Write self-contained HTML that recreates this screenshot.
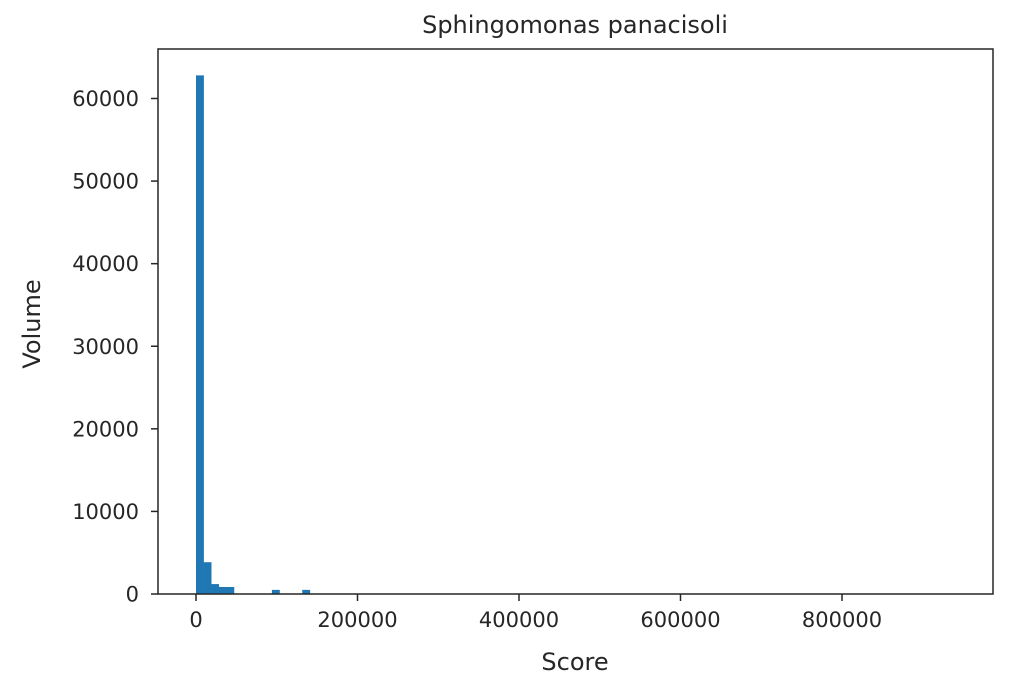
<!DOCTYPE html>
<html><head><meta charset="utf-8"><style>
body{margin:0;background:#fff;}
svg text{font-family:"DejaVu Sans","Liberation Sans",sans-serif;fill:#262626;}
</style></head><body>
<svg id="chart" width="1032" height="693" xmlns="http://www.w3.org/2000/svg">
<text x="575" y="33" font-size="24" text-anchor="middle">Sphingomonas panacisoli</text>
<text x="575" y="670" font-size="24" text-anchor="middle">Score</text>
<text x="40" y="324" font-size="24" text-anchor="middle" transform="rotate(-90 40 324)">Volume</text>
<g id="bars"></g>
<g id="xt"></g>
<g id="yt"></g>
<rect x="158" y="49" width="835" height="545" fill="none" stroke="#262626" stroke-width="1.5"/>
</svg>
<script>
const binWidth = 9400;
const binStarts = [0, 9400, 18800, 28200, 37600, 94000, 131600];
const binCounts = [62800, 3850, 1200, 850, 850, 500, 500];
const xTicks = [0, 200000, 400000, 600000, 800000];
const yTicks = [0, 10000, 20000, 30000, 40000, 50000, 60000];

const NS = "http://www.w3.org/2000/svg";
const xs = v => 196 + v * (646 / 800000);
const ys = v => 594 - v * (495.5 / 60000);
function mk(tag, attrs, parent){const e=document.createElementNS(NS,tag);for(const k in attrs)e.setAttribute(k,attrs[k]);parent.appendChild(e);return e;}
const bars=document.getElementById('bars');
binStarts.forEach((s,i)=>{
  const x0=xs(s), x1=xs(s+binWidth);
  const r=mk('rect',{x:x0,y:ys(binCounts[i]),width:x1-x0+0.3,height:594-ys(binCounts[i]),fill:'#1f77b4'},bars);
  
  
});
const xt=document.getElementById('xt');
xTicks.forEach(v=>{
  const x=xs(v);
  mk('line',{x1:x,x2:x,y1:594,y2:601,stroke:'#262626','stroke-width':1.5},xt);
  const t=mk('text',{x:x,y:627,'font-size':21,'text-anchor':'middle'},xt);
  t.textContent=v;
  
  
});
const yt=document.getElementById('yt');
yTicks.forEach(v=>{
  const y=ys(v);
  mk('line',{x1:151,x2:158,y1:y,y2:y,stroke:'#262626','stroke-width':1.5},yt);
  const t=mk('text',{x:139,y:y+7.5,'font-size':21,'text-anchor':'end'},yt);
  t.textContent=v;
  
  
});
</script>
</body></html>
